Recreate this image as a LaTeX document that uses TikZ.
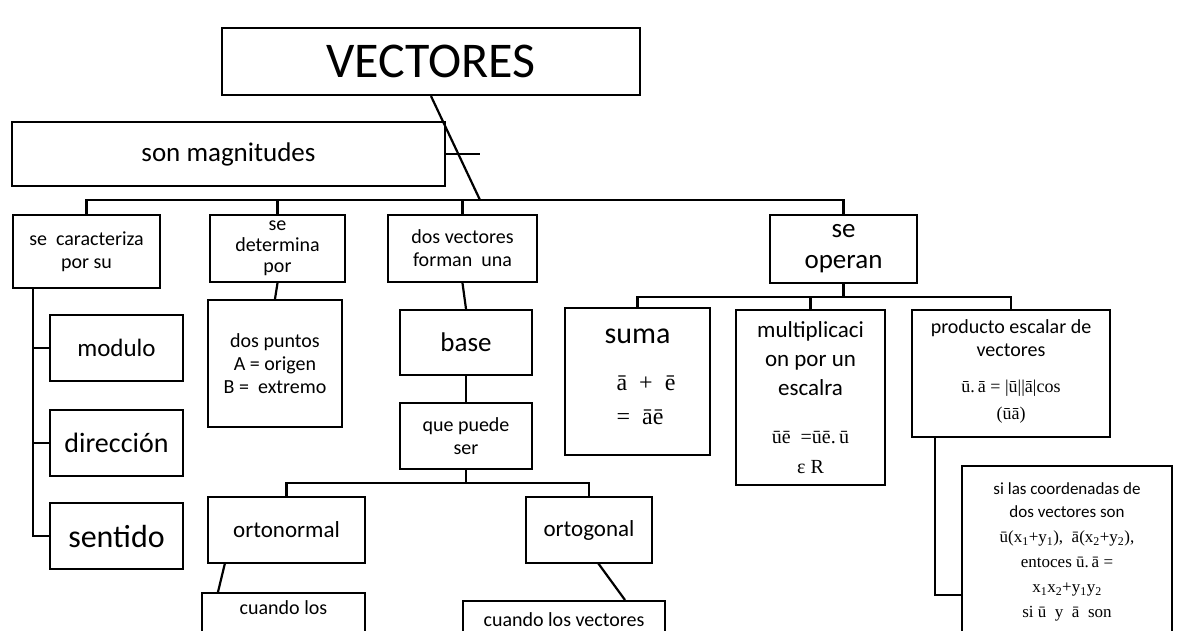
\documentclass[tikz,border=0pt]{standalone}
\usepackage{fontspec}
\setmainfont{Carlito}
\newfontfamily\mfont{Liberation Serif}
\begin{document}
\begin{tikzpicture}[x=1pt,y=-1pt,line width=2.2pt]
\tikzset{box/.style={draw,rectangle,inner sep=1pt,align=center,font=\fontsize{20}{23}\selectfont},
  txt/.style={inner sep=0pt,align=center,font=\fontsize{20}{23}\selectfont}}
\useasboundingbox (0,0) rectangle (1200,630);
\clip (0,0) rectangle (1200,630);
\fill[white] (0,0) rectangle (1200,630);

% title and first level
\node[box,minimum width=418,minimum height=67,font=\fontsize{50}{54}\selectfont] (vec) at (431,61.5) {VECTORES};
\node[box,minimum width=433,minimum height=64,font=\fontsize{27}{30}\selectfont] (mag) at (228.5,154) {son magnitudes};
\node[box,minimum width=147,minimum height=73] (car) at (86.5,251.5) {se\ \ caracteriza\\por su};
\node[box,minimum width=135,minimum height=67] (det) at (277.5,248.5) {};
\node[txt] at (det) {se\\[-2pt]determina\\[-2pt]por};
\node[box,minimum width=149,minimum height=67] (dos) at (462.5,248.5) {dos vectores\\forman\ \ una};
\node[box,minimum width=147,minimum height=68,font=\fontsize{27}{31}\selectfont] (ope) at (843.5,249) {se\\operan};

% caracteristicas
\node[box,minimum width=133,minimum height=66,font=\fontsize{25}{28}\selectfont] (mod) at (116.5,348) {modulo};
\node[box,minimum width=133,minimum height=66,font=\fontsize{28}{31}\selectfont] (dir) at (116.5,443) {dirección};
\node[box,minimum width=133,minimum height=66,font=\fontsize{32}{35}\selectfont] (sen) at (116.5,536) {sentido};

% puntos y base
\node[box,minimum width=134,minimum height=127] (pun) at (275,363.5) {dos puntos\\A = origen\\B =\ \ extremo};
\node[box,minimum width=132,minimum height=65,font=\fontsize{27}{30}\selectfont] (bas) at (466,342.5) {base};
\node[box,minimum width=132,minimum height=66] (pue) at (466,436) {que puede\\ser};
\node[box,minimum width=157,minimum height=66,font=\fontsize{23}{26}\selectfont] (orn) at (286.5,530) {ortonormal};
\node[box,minimum width=126,minimum height=66,font=\fontsize{23}{26}\selectfont] (org) at (589,530) {ortogonal};
\node[box,minimum width=163,minimum height=80,anchor=north] (cl1) at (283.5,592) {};
\node[txt,anchor=north] at (283.5,600) {cuando los};
\node[box,minimum width=202,minimum height=80,anchor=north] (cl2) at (564,600) {};
\node[txt,anchor=north] at (564,612) {cuando los vectores};

% operaciones
\node[box,minimum width=145,minimum height=147] (sum) at (637.5,381.5) {};
\node[txt,font=\fontsize{30}{32}\selectfont] at (637.5,336) {suma};
\node[txt,font=\mfont\fontsize{24}{34}\selectfont] at (640,400) {\ \ ā\ \ +\ \ ē\\=\ \ āē};
\node[box,minimum width=149,minimum height=175] (mul) at (810.5,397.5) {};
\node[txt,font=\fontsize{23}{29}\selectfont] at (810.5,359) {multiplicaci\\on por un\\escalra};
\node[txt,font=\mfont\fontsize{20}{30}\selectfont] at (810.5,452) {ūē\ \ =ūē.\,ū\\ε\ R};
\node[box,minimum width=198,minimum height=127] (pro) at (1011,373.5) {};
\node[txt] at (1011,338) {producto escalar de\\vectores};
\node[txt,font=\mfont\fontsize{18}{27}\selectfont] at (1011,402) {ū.\,ā\ =\ |ū||ā|cos\\(ūā)};
\node[box,minimum width=210,minimum height=180,anchor=north] (coo) at (1067,465) {};
\node[txt,anchor=north,font=\fontsize{17}{23}\selectfont] at (1067,482) {si las coordenadas de\\dos vectores son};
\node[txt,anchor=north,font=\mfont\fontsize{17}{25}\selectfont] at (1067,530) {ū(x\textsubscript{1}+y\textsubscript{1}),\ \ ā(x\textsubscript{2}+y\textsubscript{2}),\\entoces\ ū.\,ā\ =\\x\textsubscript{1}x\textsubscript{2}+y\textsubscript{1}y\textsubscript{2}\\si ū\ \ y\ \ ā\ \ son};

% connectors
\draw (vec.south) -- (480,200);
\draw (mag.east) -- (480,154);
\draw (car.north) |- (ope.north |- 200,200) -- (ope.north);
\draw (det.north) -- (det.north |- 200,200);
\draw (dos.north) -- (dos.north |- 200,200);
\draw (33,288) |- (sen.west);
\draw (33,348) -- (mod.west);
\draw (33,443) -- (dir.west);
\draw (det.south) -- (pun.north);
\draw (dos.south) -- (bas.north);
\draw (bas.south) -- (pue.north);
\draw (pue.south) -- (466,483);
\draw (orn.north) |- (org.north |- 200,483) -- (org.north);
\draw (ope.south) -- (843.5,297);
\draw (sum.north) |- (pro.north |- 200,297) -- (pro.north);
\draw (mul.north) -- (mul.north |- 200,297);
\draw (935,437) |- (coo.west |- 200,595);
\draw (225,563) -- (218,592);
\draw (598,563) -- (625,600);
\end{tikzpicture}
\end{document}
